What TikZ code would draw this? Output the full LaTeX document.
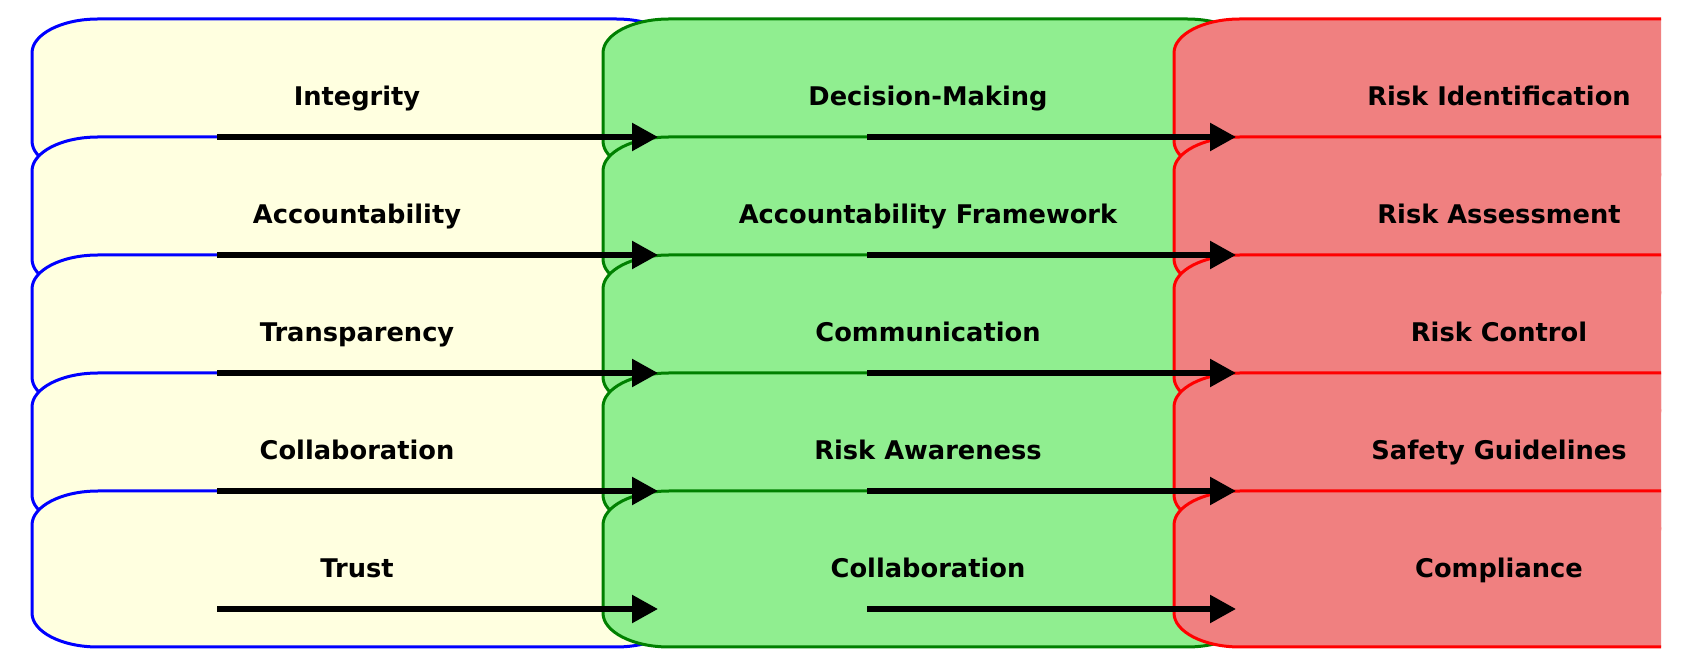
\documentclass[tikz,border=0pt]{standalone}
\usepackage{fontspec}
\setmainfont{DejaVu Sans}
\usepackage{xcolor}
\usepackage{tikz}
\usetikzlibrary{arrows.meta,positioning,calc}

\definecolor{lightyellow}{HTML}{FFFFE0}
\definecolor{lightgreen}{HTML}{90EE90}
\definecolor{lightcoral}{HTML}{F08080}
\definecolor{mplgreen}{HTML}{008000}

\tikzset{
  valuebox/.style={fill=lightyellow, draw=blue},
  govbox/.style={fill=lightgreen, draw=mplgreen},
  riskbox/.style={fill=lightcoral, draw=red},
  boxtext/.style={font=\bfseries\fontsize{25.7}{30}\selectfont, text height=19pt, text depth=6pt, inner sep=0pt},
  flow/.style={line width=5.5pt, -{Triangle[length=26pt,width=27pt]}}
}

% box with soft (elliptic) corners: style, left x, bottom y
\newcommand{\softbox}[3]{%
  \filldraw[#1, line width=3pt] ({#2+66},{#3}) -- ({#2+650-66},{#3})
    arc[start angle=270, end angle=360, x radius=66pt, y radius=34pt]
    -- ({#2+650},{#3+156-34})
    arc[start angle=0, end angle=90, x radius=66pt, y radius=34pt]
    -- ({#2+66},{#3+156})
    arc[start angle=90, end angle=180, x radius=66pt, y radius=34pt]
    -- ({#2},{#3+34})
    arc[start angle=180, end angle=270, x radius=66pt, y radius=34pt] -- cycle;}

\begin{document}
\begin{tikzpicture}[x=1pt,y=1pt]
    \useasboundingbox (0,0) rectangle (1695,672);

    % Boxes, column by column
    \begin{scope}
        \clip (0,0) rectangle (1661,672);
        \foreach \kind/\xl in {valuebox/32, govbox/603, riskbox/1174}
            \foreach \r in {1,...,5}
                \softbox{\kind}{\xl}{615-118*\r};
    \end{scope}

    % Labels
    \foreach \r/\txt in {1/Integrity, 2/Accountability, 3/Transparency, 4/Collaboration, 5/Trust}
        \node[boxtext] (val\r) at (357,{691-118*\r}) {\txt};
    \foreach \r/\txt in {1/Decision-Making, 2/Accountability Framework, 3/Communication, 4/Risk Awareness, 5/Collaboration}
        \node[boxtext] (gov\r) at (928,{691-118*\r}) {\txt};
    \foreach \r/\txt in {1/Risk Identification, 2/Risk Assessment, 3/Risk Control, 4/Safety Guidelines, 5/Compliance}
        \node[boxtext] (risk\r) at (1499,{691-118*\r}) {\txt};

    % Flows
    \foreach \r in {1,...,5} {
        \draw[flow] ([shift={(-140,-38)}]val\r.center) -- ([shift={(-270,-38)}]gov\r.center);
        \draw[flow] ([shift={(-61,-38)}]gov\r.center) -- ([shift={(-263,-38)}]risk\r.center);
    }
\end{tikzpicture}
\end{document}
